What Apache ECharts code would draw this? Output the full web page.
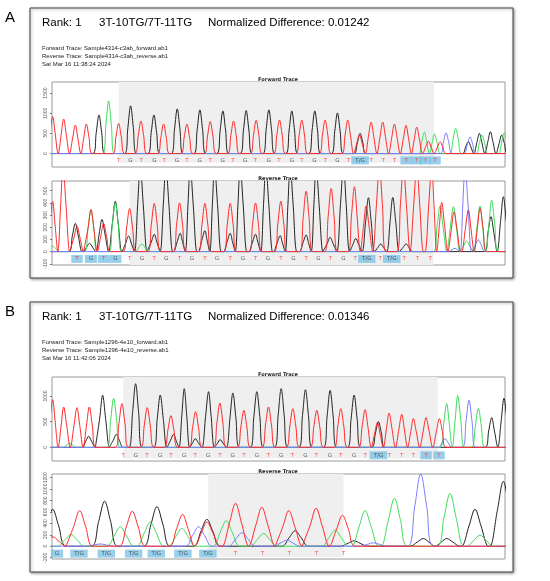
<!DOCTYPE html>
<html><head><meta charset="utf-8">
<script src="https://cdn.jsdelivr.net/npm/echarts@6/dist/echarts.min.js"></script>
<style>html,body{margin:0;padding:0;background:#fff}#c{width:550px;height:581px}</style>
</head><body><div id="c"></div>
<script>
// Peak lists: [position, height]
const fA_red=[[157,917],[190,858],[225,708],[258,733],[355,750],[422,808],[490,733],[560,733],[630,792],[700,808],[768,825],[838,833],[905,833],[975,833],[1043,833],[1078,467],[1113,783],[1148,783],[1183,733],[1218,700],[1250,658],[1285,308],[1320,292]];
const fA_black=[[296,958],[391,1183],[461,958],[531,1108],[599,1083],[668,1058],[738,1067],[806,1083],[875,1058],[944,1058],[1012,1008],[1080,500],[1405,300],[1438,500],[1471,542],[1505,458]];
const fA_green=[[325,1308],[1273,533],[1303,483],[1367,625],[1446,458],[1513,517]];
const fA_blue=[[1338,517],[1410,417]];
const fA_bases=[[355,'T'],[390,'G'],[423,'T'],[462,'G'],[492,'T'],[530,'G'],[560,'T'],[598,'G'],[630,'T'],[667,'G'],[698,'T'],[735,'G'],[766,'T'],[805,'G'],[836,'T'],[875,'G'],[905,'T'],[943,'G'],[975,'T'],[1012,'G'],[1045,'T'],[1080,'T/G',1],[1113,'T'],[1150,'T'],[1183,'T'],[1218,'T',1],[1250,'T',1],[1275,'T',1],[1305,'T',1]];

const rA_red=[[157,410],[188,700],[230,210],[272,346],[310,230],[388,355],[462,396],[538,400],[614,396],[690,396],[766,400],[842,413],[918,497],[993,519],[1063,533],[1098,374],[1138,700],[1210,700],[1250,700],[1295,700],[1325,404],[1362,328],[1405,342],[1440,355]];
const rA_black=[[225,232],[268,68],[305,265],[345,413],[385,128],[420,700],[462,142],[497,700],[540,150],[570,700],[614,172],[643,700],[690,150],[720,700],[766,142],[797,700],[840,131],[870,700],[918,137],[948,700],[990,117],[1030,700],[1067,109],[1105,443],[1142,63],[1178,445],[1218,63],[1473,287],[1510,451]];
const rA_green=[[157,46],[272,340],[345,400],[425,63],[1320,374],[1360,369],[1400,87],[1440,374],[1475,423]];
const rA_blue=[[1365,27],[1395,700],[1435,96]];
const rA_bases=[[230,'T',1],[272,'G',1],[310,'T',1],[345,'G',1],[388,'T'],[425,'G'],[462,'T'],[498,'G'],[538,'T'],[575,'G'],[614,'T'],[650,'G'],[690,'T'],[728,'G'],[766,'T'],[803,'G'],[842,'T'],[880,'G'],[918,'T'],[955,'G'],[992,'T'],[1030,'G'],[1065,'T'],[1100,'T/G',1],[1140,'T'],[1175,'T/G',1],[1212,'T'],[1252,'T'],[1290,'T']];

const fB_red=[[157,929],[190,786],[230,773],[267,786],[365,851],[441,773],[512,617],[586,695],[659,864],[731,721],[805,786],[878,753],[950,721],[1022,753],[1095,734],[1132,487],[1167,669],[1205,643],[1240,558],[1278,578],[1318,558]];
const fB_black=[[265,214],[307,1013],[348,253],[406,1240],[480,1019],[520,253],[552,1143],[585,170],[625,1084],[660,150],[698,1058],[770,1084],[843,1143],[916,1123],[990,1110],[1062,1019],[1135,500],[1475,578],[1512,955]];
const fB_green=[[208,84],[340,955],[1340,851],[1373,1006],[1435,760]];
const fB_blue=[[1335,170],[1407,916]];
const fB_bases=[[369,'T'],[406,'G'],[440,'T'],[480,'G'],[512,'T'],[552,'G'],[585,'T'],[624,'G'],[659,'T'],[697,'G'],[731,'T'],[770,'G'],[805,'T'],[843,'G'],[877,'T'],[916,'G'],[948,'T'],[989,'G'],[1022,'T'],[1062,'G'],[1095,'T'],[1135,'T/G',1],[1168,'T'],[1205,'T'],[1240,'T'],[1278,'T',1],[1317,'T',1]];

const rB_red=[[157,165],[238,624],[396,612],[547,559],[620,424],[706,753],[785,682],[866,624],[948,665],[1027,541]];
const rB_black=[[157,647],[313,788],[470,694],[620,471],[885,271],[1062,94],[1270,135],[1340,135],[1425,647],[1510,1135]];
const rB_green=[[212,206],[360,341],[450,424],[545,312],[678,447],[790,224],[1005,282],[1095,624],[1183,841],[1350,924],[1440,194]];
const rB_blue=[[300,40],[595,341],[725,235],[860,106],[1120,60],[1262,1265]];
const rB_bases=[[170,'G',1],[236,'T/G',1],[318,'T/G',1],[400,'T/G',1],[468,'T/G',1],[548,'T/G',1],[623,'T/G',1],[706,'T'],[787,'T'],[868,'T'],[949,'T'],[1031,'T']];

const fTicks=[0,500,1000,1500], rATicks=[0,100,200,300,400,500,-100], fBTicks=[0,500,1000], rBTicks=[-200,0,200,400,600,800,1000,1200];

const XMIN=155, XMAX=1515;
function trace(peaks,maxW){
  const p=[];const s=peaks.slice().sort((a,b)=>a[0]-b[0]);
  s.forEach((k,i)=>{
    const prev=i?s[i-1][0]:k[0]-2*maxW, next=i<s.length-1?s[i+1][0]:k[0]+2*maxW;
    const wl=Math.min((k[0]-prev)/2,maxW), wr=Math.min((next-k[0])/2,maxW);
    p.push([k[0]-wl,0],[k[0]-wl*0.45,k[1]*0.55],[k[0],k[1]],[k[0]+wr*0.45,k[1]*0.55],[k[0]+wr,0]);
  });
  const out=[[XMIN-60,0]];p.forEach(q=>{if(q[0]>out[out.length-1][0])out.push(q);});
  out.push([XMAX+60,0]);
  return out;
}
const panels=[
 {top:82,h:85,ymin:-333,ymax:1775,ticks:fTicks,w:18,lab:-170,band:[355,1302],t:'Forward Trace',tr:[fA_red,fA_black,fA_green,fA_blue],bases:fA_bases},
 {top:181,h:84,ymin:-110,ymax:580,ticks:rATicks,w:20,lab:-60,band:[388,1300],t:'Reverse Trace',tr:[rA_red,rA_black,rA_green,rA_blue],bases:rA_bases},
 {top:377,h:84,ymin:-266,ymax:1370,ticks:fBTicks,w:20,lab:-155,band:[369,1313],t:'Forward Trace',tr:[fB_red,fB_black,fB_green,fB_blue],bases:fB_bases},
 {top:474,h:85,ymin:-224,ymax:1265,ticks:rBTicks,w:40,lab:-130,band:[624,1030],t:'Reverse Trace',tr:[rB_red,rB_black,rB_green,rB_blue],bases:rB_bases}
];
const colors=['#ff2a2a','#222222','#3ddc5a','#7b7bff'];
const grid=[],xAxis=[],yAxis=[],series=[];
panels.forEach((P,i)=>{
  grid.push({left:52,top:P.top,width:453,height:P.h,show:true,borderColor:'#9a9a9a',borderWidth:1});
  xAxis.push({gridIndex:i,type:'value',min:XMIN,max:XMAX,show:false});
  yAxis.push({gridIndex:i,type:'value',min:P.ymin,max:P.ymax,splitLine:{show:false},
    axisLine:{show:false},axisTick:{show:true,length:2,customValues:P.ticks,lineStyle:{color:'#777'}},
    axisLabel:{fontSize:5,color:'#555',rotate:90,margin:4,customValues:P.ticks,formatter:v=>String(v)}});
  P.tr.forEach((pk,c)=>{
    series.push({type:'line',xAxisIndex:i,yAxisIndex:i,data:trace(pk,P.w),smooth:0.35,symbol:'none',
      lineStyle:{color:colors[c],width:1},z:3+(c===0?1:0),clip:true,
      markArea:c===0?{silent:true,itemStyle:{color:'#efefef'},data:[[{xAxis:P.band[0],yAxis:P.ymax},{xAxis:P.band[1],yAxis:P.lab-60}]]}:undefined});
  });
  series.push({type:'scatter',xAxisIndex:i,yAxisIndex:i,symbolSize:0,z:10,
    data:P.bases.map(b=>({value:[b[0],P.lab],
      label:{show:true,position:'inside',formatter:b[1],fontSize:5.5,fontFamily:'DejaVu Sans',
        color:b[1]==='T'?'#ff2a2a':'#333',
        backgroundColor:b[2]?'#7ec3e6':'transparent',padding:b[2]?[1,4]:0}}))});
});
const g=[];
function panelText(y0,diff,f1,f2,date,letter){
  g.push({type:'rect',shape:{x:30,y:y0,width:483,height:270},style:{fill:'#fff',stroke:'#444',lineWidth:1,shadowBlur:3,shadowOffsetX:1,shadowOffsetY:1,shadowColor:'rgba(0,0,0,0.4)'},z:-10});
  g.push({type:'text',x:5,y:y0+2,style:{text:letter,font:'15px Liberation Sans',fill:'#000'}});
  g.push({type:'text',x:42,y:y0+9,style:{text:'Rank: 1',font:'11.5px Liberation Sans',fill:'#000'}});
  g.push({type:'text',x:99,y:y0+9,style:{text:'3T-10TG/7T-11TG',font:'11.5px Liberation Sans',fill:'#000'}});
  g.push({type:'text',x:208,y:y0+9,style:{text:'Normalized Difference: '+diff,font:'11.5px Liberation Sans',fill:'#000'}});
  [f1,f2,date].forEach((t,k)=>g.push({type:'text',x:42,y:y0+37+k*8,style:{text:t,font:'6px Liberation Sans',fill:'#222'}}));
}
panelText(8,'0.01242','Forward Trace: Sample4314-c3ab_forward.ab1','Reverse Trace: Sample4314-c3ab_reverse.ab1','Sat Mar 16 11:38:24 2024','A');
panelText(302,'0.01346','Forward Trace: Sample1296-4e10_forward.ab1','Reverse Trace: Sample1296-4e10_reverse.ab1','Sat Mar 16 11:42:06 2024','B');
panels.forEach(P=>g.push({type:'text',x:278,y:P.top-5,style:{text:P.t,font:'bold 5px DejaVu Sans',fill:'#222',align:'center'}}));
const chart=echarts.init(document.getElementById('c'),null,{renderer:'canvas'});
chart.setOption({animation:false,grid,xAxis,yAxis,series,graphic:g});
</script></body></html>
